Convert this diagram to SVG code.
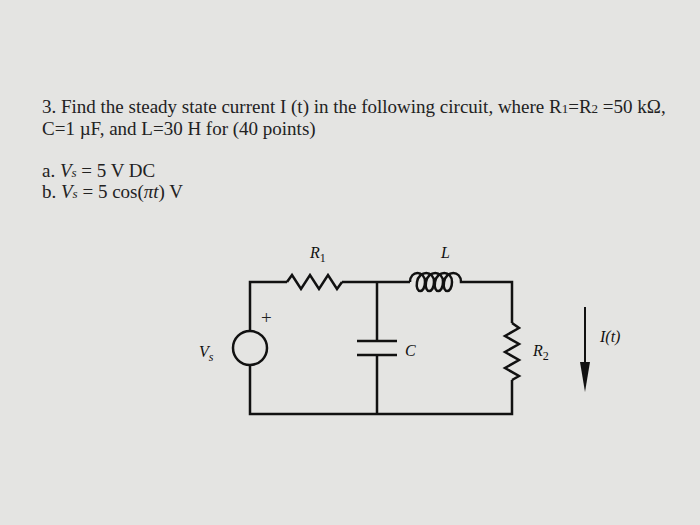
<svg xmlns="http://www.w3.org/2000/svg" width="700" height="525" viewBox="0 0 700 525">
<style>
.t{font-family:"Liberation Serif",serif;font-size:19px;fill:#222}
.i{font-family:"Liberation Serif",serif;font-style:italic;font-size:16px;fill:#111}
.w{fill:none;stroke:#111;stroke-width:2.5;stroke-linejoin:miter}
</style>
<rect width="700" height="525" fill="#e4e4e2"/>
<text class="t" x="42" y="113">3. Find the steady state current I (t) in the following circuit, where R<tspan font-size="13">1</tspan>=R<tspan font-size="13">2</tspan> =50 kΩ,</text>
<text class="t" x="42" y="135">C=1 µF, and L=30 H for (40 points)</text>
<text class="t" x="42" y="177">a. <tspan font-style="italic">V<tspan font-size="13">s</tspan></tspan> = 5 V DC</text>
<text class="t" x="42" y="198">b. <tspan font-style="italic">V<tspan font-size="13">s</tspan></tspan> = 5 cos(<tspan font-style="italic">πt</tspan>) V</text>
<g id="wires">
<path class="w" d="M250,331 V282 H287 M342,282 H410 M468,282 H512 V323 M512,380 V414 H250 V365 M377,282 V341 M377,355 V414"/>
</g>
<g id="source"><circle class="w" cx="250" cy="348" r="17"/><text class="t" x="261" y="324" font-size="13">+</text><text class="i" x="199" y="357">V<tspan font-size="12" dy="4">s</tspan></text></g>
<g id="R1"><path class="w" d="M287,282 L292,275 L301,289 L310,275 L319,289 L328,275 L337,289 L342,282"/><text class="i" x="310" y="258">R<tspan font-size="12" font-style="normal" dy="4">1</tspan></text></g>
<g id="C"><path class="w" d="M357,341 H397 M357,355 H397"/><text class="i" x="405" y="356">C</text></g>
<g id="L"><path class="w" d="M410,282 C410,270 425,270 425,282 C425,294 415,294 417,282 C419,270 434,270 434,282 C434,294 424,294 426,282 C428,270 443,270 443,282 C443,294 433,294 435,282 C437,270 452,270 452,282 C452,294 442,294 444,282 C446,270 461,270 461,282 H468"/><text class="i" x="441" y="258">L</text></g>
<g id="R2"><path class="w" d="M512,323 L519,328 L505,336 L519,344 L505,352 L519,360 L505,368 L519,376 L512,380"/><text class="i" x="533" y="356">R<tspan font-size="12" font-style="normal" dy="4">2</tspan></text></g>
<g id="current"><path d="M585,307 V365" stroke="#111" stroke-width="2"/><path d="M580,362 L590,362 L585,392 Z" fill="#111"/><text class="i" x="600" y="342" font-size="14">I(t)</text></g>
</svg>
